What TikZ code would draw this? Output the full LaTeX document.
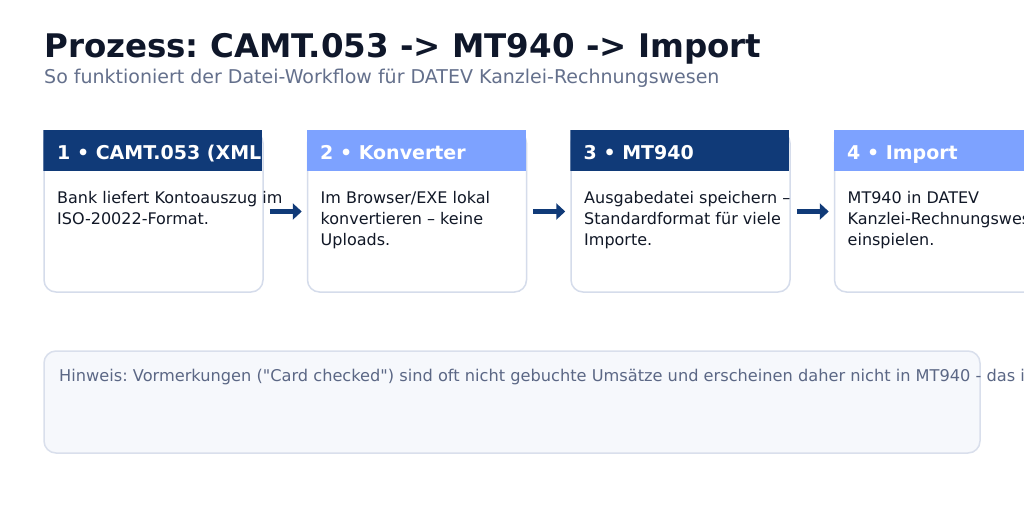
\documentclass[tikz,border=0pt]{standalone}
\usepackage{fontspec}
\setmainfont{DejaVu Sans}[Ligatures=TeXOff]
\usetikzlibrary{arrows.meta}
\frenchspacing

\definecolor{titlecol}{RGB}{15,23,42}
\definecolor{subcol}{RGB}{100,112,140}
\definecolor{darkhead}{RGB}{16,58,120}
\definecolor{lighthead}{RGB}{125,162,255}
\definecolor{cardline}{RGB}{213,220,235}
\definecolor{bodycol}{RGB}{17,24,39}
\definecolor{notefill}{RGB}{246,248,252}
\definecolor{noteline}{RGB}{217,223,236}
\definecolor{notetext}{RGB}{91,103,133}

\tikzset{
  card/.style={draw=cardline,line width=1.5pt,fill=white,rounded corners=12pt,
    minimum width=219pt,minimum height=161pt,inner sep=0pt},
  headtext/.style={anchor=base west,inner sep=0pt,text=white,
    font=\fontsize{19}{23}\selectfont\bfseries},
  bodytext/.style={anchor=north west,inner sep=0pt,align=left,text=bodycol,
    font=\fontsize{16}{21}\selectfont},
  flow/.style={draw=darkhead,line width=5.5pt,
    -{Triangle[length=9pt,width=16pt]},shorten <=6pt,shorten >=5pt},
  note/.style={draw=noteline,line width=1.5pt,fill=notefill,rounded corners=12pt,
    minimum width=936pt,minimum height=102pt,inner sep=0pt}
}

\begin{document}
\begin{tikzpicture}[x=1pt,y=-1pt]
\useasboundingbox (0,0) rectangle (1024,512);
\clip (0,0) rectangle (1024,512);
\fill[white] (0,0) rectangle (1024,512);

% title
\node[anchor=base west,inner sep=0pt,text=titlecol,font=\fontsize{32.5}{38}\selectfont\bfseries]
  (title) at (44,57) {Prozess: CAMT.053 -> MT940 -> Import};
\node[anchor=base west,inner sep=0pt,text=subcol,font=\fontsize{19}{23}\selectfont]
  (subtitle) at (44,83.5) {So funktioniert der Datei-Workflow für DATEV Kanzlei-Rechnungswesen};

% cards
\node[card] (card1) at (153.5,211.5) {};
\node[card] (card2) at (417,211.5) {};
\node[card] (card3) at (680.5,211.5) {};
\node[card] (card4) at (944,211.5) {};

\begin{scope}
\clip (card1.north west) rectangle ++(219,41);
\fill[darkhead] (card1.north west) rectangle ++(219,41);
\node[headtext] (head1) at (57,159) {1 • CAMT.053 (XML)};
\end{scope}
\begin{scope}
\clip (card2.north west) rectangle ++(219,41);
\fill[lighthead] (card2.north west) rectangle ++(219,41);
\node[headtext] (head2) at (320,159) {2 • Konverter};
\end{scope}
\begin{scope}
\clip (card3.north west) rectangle ++(219,41);
\fill[darkhead] (card3.north west) rectangle ++(219,41);
\node[headtext] (head3) at (583.5,159) {3 • MT940};
\end{scope}
\begin{scope}
\clip (card4.north west) rectangle ++(219,41);
\fill[lighthead] (card4.north west) rectangle ++(219,41);
\node[headtext] (head4) at (847,159) {4 • Import};
\end{scope}

\node[bodytext] (text1) at (57,191) {Bank liefert Kontoauszug im\\ISO-20022-Format.};
\node[bodytext] (text2) at (320.5,191) {Im Browser/EXE lokal\\konvertieren – keine\\Uploads.};
\node[bodytext] (text3) at (584,191) {Ausgabedatei speichern –\\Standardformat für viele\\Importe.};
\node[bodytext] (text4) at (847.5,191) {MT940 in DATEV\\Kanzlei-Rechnungswesen\\einspielen.};

% arrows
\draw[flow] (card1.east) -- (card2.west);
\draw[flow] (card2.east) -- (card3.west);
\draw[flow] (card3.east) -- (card4.west);

% note
\node[note] (hint) at (512,402) {};
\node[anchor=base west,inner sep=0pt,text=notetext,font=\fontsize{16.2}{19}\selectfont]
  (hinttext) at (59,381) {Hinweis: Vormerkungen ("Card checked") sind oft nicht gebuchte Umsätze und erscheinen daher nicht in MT940 - das ist};
\end{tikzpicture}
\end{document}
